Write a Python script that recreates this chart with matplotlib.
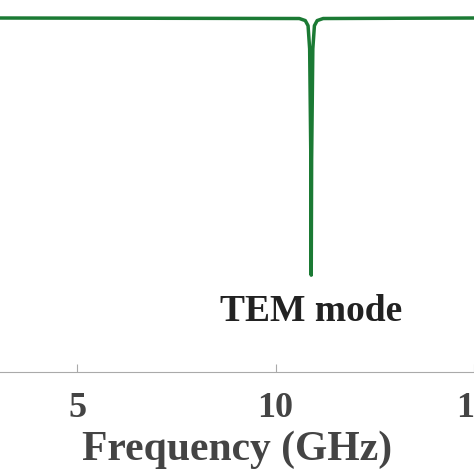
import matplotlib.pyplot as plt

plt.rcParams['font.family'] = 'Liberation Serif'
plt.rcParams['font.weight'] = 'bold'

freq = [3.0, 10.6, 10.75, 10.82, 10.86, 10.89, 10.90, 10.91, 10.94, 10.98, 11.05, 11.2, 15.0]
resp = [0.0, -0.002, -0.01, -0.03, -0.12, -0.55, -1.0, -0.55, -0.12, -0.03, -0.01, -0.002, 0.0]

fig = plt.figure(figsize=(4.74, 4.74), dpi=100)
ax = fig.add_axes([0, 0.215, 1, 0.785])
ax.plot(freq, resp, color='#1b7a34', linewidth=2.5)

ax.set_xlim(3.06, 14.85)
ax.set_ylim(-1.377, 0.07)
ax.set_xticks([5, 10, 15])
ax.set_yticks([])
for s in ['top', 'left', 'right']:
    ax.spines[s].set_visible(False)
ax.spines['bottom'].set_color('#aaaaaa')
ax.tick_params(axis='x', direction='in', length=6, color='#aaaaaa',
               labelsize=26, labelcolor='#444444', pad=14)
ax.set_xlabel('Frequency (GHz)', fontsize=30, color='#444444', fontweight='bold', labelpad=4)
ax.text(10.9, -1.14, 'TEM mode', fontsize=27, fontweight='bold', ha='center', va='center', color='#222222')

fig.savefig('out.png', dpi=100)
